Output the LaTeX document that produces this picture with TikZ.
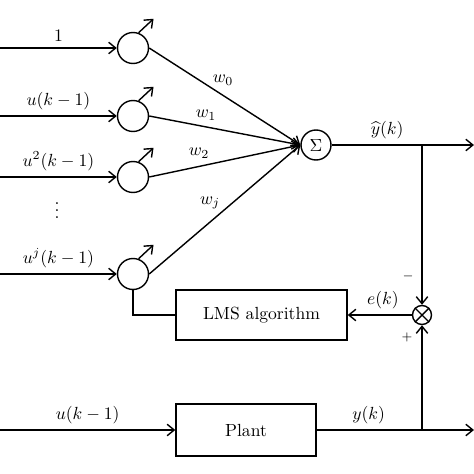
\documentclass[tikz,border=0pt]{standalone}
\usepackage{amsmath}
\usetikzlibrary{positioning}
\usetikzlibrary{calc}
\usetikzlibrary{arrows.meta}

\tikzset{
	weight/.style={circle, draw, minimum size=6.2mm, inner sep=0pt},
	block/.style={rectangle, draw, inner sep=0pt},
	tune/.style={->, shorten <=0pt},
}

\begin{document}
\begin{tikzpicture}[x=0.2mm, y=-0.2mm, line width=0.8pt, >={Straight Barb[length=4pt,width=6.5pt]}]
	\useasboundingbox (0,0) rectangle (474,474);

	% Weights
	\node [weight] at (133,48) (W0) {};
	\node [weight] at (133,116) (W1) {};
	\node [weight] at (133,177) (W2) {};
	\node [weight] at (133,274) (Wj) {};
	\node at (57,205) (dots) {$\vdots$};

	% Sum, comparator and blocks
	\node [weight, minimum size=6mm] at (316,145) (Sum) {$\Sigma$};
	\node [circle, draw, minimum size=3.8mm, inner sep=0pt] at (422,315) (Cmp) {};
	\node [block, minimum width=34.2mm, minimum height=10mm] at (261.5,315) (LMS) {LMS algorithm};
	\node [block, minimum width=28mm, minimum height=10.4mm] at (246,430) (Plant) {Plant};
	\node at (408,276) (minus) {\scriptsize$-$};
	\node at (407,337) (plus) {\scriptsize$+$};

	% Free ends
	\coordinate (in0) at (0,48);
	\coordinate (in1) at (0,116);
	\coordinate (in2) at (0,177);
	\coordinate (inj) at (0,274);
	\coordinate (inP) at (0,430);
	\coordinate (outY) at (474,145);
	\coordinate (outP) at (474,430);
	\coordinate (tapY) at (Sum -| Cmp);
	\coordinate (tapP) at (Plant -| Cmp);

	% Inputs
	\draw [->] (in0) -- node [above] (l0) {$1$} (W0.west);
	\draw [->] (in1) -- node [above] (l1) {$u(k-1)$} (W1.west);
	\draw [->] (in2) -- node [above] (l2) {$u^2(k-1)$} (W2.west);
	\draw [->] (inj) -- node [above] (lj) {$u^j(k-1)$} (Wj.west);
	\draw [->] (inP) -- node [above] (lP) {$u(k-1)$} (Plant.west);

	% Weighted sum
	\draw [->] (W0.east) -- (Sum.west);
	\draw [->] (W1.east) -- (Sum.west);
	\draw [->] (W2.east) -- (Sum.west);
	\draw [->] (Wj.east) -- (Sum.west);
	\node at (223,80) (w0) {$w_0$};
	\node at (206,115) (w1) {$w_1$};
	\node at (199,153) (w2) {$w_2$};
	\node at (210,203) (wj) {$w_j$};

	% Adjustable weights
	\draw [tune] (W0.70) -- ++(15,-14);
	\draw [tune] (W1.70) -- ++(15,-14);
	\draw [tune] (W2.70) -- ++(15,-14);
	\draw [tune] (Wj.70) -- ++(15,-14);

	% Outputs and error
	\draw [->] (Sum.east) -- node [above, pos=.39] (lyh) {$\widehat{y}(k)$} (outY);
	\draw [->] (Plant.east) -- node [above, pos=.33] (ly) {$y(k)$} (outP);
	\draw [->] (tapY) -- (Cmp.north);
	\draw [->] (tapP) -- (Cmp.south);
	\draw (Cmp.45) -- (Cmp.225) (Cmp.135) -- (Cmp.315);
	\draw [->] (Cmp.west) -- node [above, pos=.45] (le) {$e(k)$} (LMS.east);
	\draw (LMS.west) -| (Wj.south);

\end{tikzpicture}
\end{document}
